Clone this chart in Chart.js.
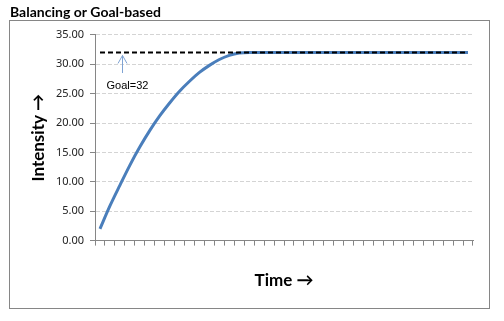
<!DOCTYPE html>
<html lang="en">
<head>
<meta charset="UTF-8">
<title>Balancing or Goal-based</title>
<script src="https://cdn.jsdelivr.net/npm/chart.js"></script>
<style>
  html, body { margin: 0; padding: 0; background: #fff; }
  #wrap { width: 504px; height: 321px; }
</style>
</head>
<body>
<div id="wrap"><canvas id="myChart" width="504" height="321"></canvas></div>
<script>
// data
const timeSteps = ['1','2','3','4','5','6','7','8','9','10','11','12','13','14','15','16','17','18','19',
                   '20','21','22','23','24','25','26','27','28','29','30','31','32','33','34','35','36','37','38'];
const intensity = [2.0, 5.9, 9.4, 12.8, 15.9, 18.7, 21.2, 23.4, 25.4, 27.1, 28.6, 29.8, 30.8, 31.5, 31.9,
                   32, 32, 32, 32, 32, 32, 32, 32, 32, 32, 32, 32, 32, 32, 32, 32, 32, 32, 32, 32, 32, 32, 32];
const goal = 32;
const goalLine = timeSteps.map(() => goal);
const goalLabel = 'Goal=32';

// where the little "Goal" note sits (category index / value)
const noteIndex = 2.2;
const noteTextValue = 26.3;
const noteArrowBottom = 28.5;

const frame = {
  id: 'frame',
  beforeDraw(chart) {
    const ctx = chart.ctx;
    ctx.save();
    ctx.strokeStyle = '#868686';
    ctx.lineWidth = 1;
    ctx.strokeRect(9.5, 20.5, 480, 288);
    ctx.restore();
  }
};

const goalNote = {
  id: 'goalNote',
  afterDatasetsDraw(chart) {
    const ctx = chart.ctx;
    const x = Math.round(chart.scales.x.getPixelForValue(noteIndex)) + 0.5;
    const yTip = chart.scales.y.getPixelForValue(goal) + 3;
    const yBottom = chart.scales.y.getPixelForValue(noteArrowBottom);
    ctx.save();
    ctx.strokeStyle = '#7fa3d3';
    ctx.lineWidth = 1;
    ctx.beginPath();
    ctx.moveTo(x, yBottom);
    ctx.lineTo(x, yTip);
    ctx.moveTo(x - 4.5, yTip + 8);
    ctx.lineTo(x, yTip);
    ctx.lineTo(x + 4.5, yTip + 8);
    ctx.stroke();
    ctx.fillStyle = '#000';
    ctx.font = '11px "Liberation Sans", Arial, sans-serif';
    ctx.textAlign = 'center';
    ctx.textBaseline = 'middle';
    ctx.fillText(goalLabel, x + 5, chart.scales.y.getPixelForValue(noteTextValue));
    ctx.restore();
  }
};

new Chart(document.getElementById('myChart').getContext('2d'), {
  type: 'line',
  data: {
    labels: timeSteps,
    datasets: [
      {
        label: 'Goal',
        data: goalLine,
        borderColor: '#000000',
        borderWidth: 2,
        borderDash: [5, 3],
        pointRadius: 0,
        fill: false,
        order: 0
      },
      {
        label: 'Intensity',
        data: intensity,
        borderColor: '#4a7ebb',
        borderWidth: 3,
        pointRadius: 0,
        cubicInterpolationMode: 'monotone',
        fill: false,
        order: 1
      }
    ]
  },
  options: {
    responsive: false,
    animation: false,
    layout: { padding: { left: 10, right: 31, top: 0, bottom: 26 } },
    plugins: {
      legend: { display: false },
      tooltip: { enabled: false },
      title: {
        display: true,
        text: 'Balancing or Goal-based',
        align: 'start',
        color: '#000',
        font: { family: 'Lato, "Open Sans", sans-serif', size: 14, weight: 'bold' },
        padding: { top: 4, bottom: 14 }
      }
    },
    scales: {
      x: {
        offset: true,
        grid: {
          offset: true,
          drawOnChartArea: false,
          drawTicks: true,
          tickLength: 5,
          tickColor: '#868686'
        },
        border: { color: '#868686', width: 1 },
        ticks: { display: false, autoSkip: false },
        title: {
          display: true,
          text: 'Time \u2192',
          color: '#000',
          font: { family: 'Lato, "Open Sans", sans-serif', size: 17, weight: 'bold' },
          padding: { top: 25, bottom: 4 }
        }
      },
      y: {
        min: 0,
        max: 35,
        afterFit(scale) { scale.width = 85; },
        ticks: {
          stepSize: 5,
          padding: 6,
          color: '#222',
          font: { family: '"Noto Sans", sans-serif', size: 11 },
          callback: (v) => Number(v).toFixed(2)
        },
        grid: {
          color: '#d4d4d4',
          tickColor: '#868686',
          tickLength: 5,
          tickBorderDash: []
        },
        border: { color: '#868686', width: 1, dash: [4, 2] },
        title: {
          display: true,
          text: 'Intensity \u2192',
          color: '#000',
          font: { family: 'Lato, "Open Sans", sans-serif', size: 17, weight: 'bold' },
          padding: { top: 18, bottom: 6 }
        }
      }
    }
  },
  plugins: [frame, goalNote]
});
</script>
</body>
</html>
